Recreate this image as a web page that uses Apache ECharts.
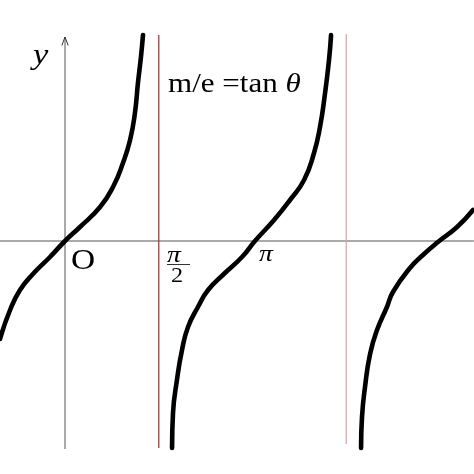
<!DOCTYPE html>
<html><head><meta charset="utf-8">
<script src="https://cdn.jsdelivr.net/npm/echarts@6/dist/echarts.min.js"></script>
<style>html,body{margin:0;padding:0;background:#fff}#c{width:474px;height:474px}</style>
</head><body><div id="c"></div>
<script>
// x in units of θ/π, y = m/e (tan θ)
const curve1X = [-0.347,-0.293,-0.240,-0.171,-0.080,0,0.080,0.187,0.256,0.309,0.347,0.373,0.389,0.405,0.416];
const curve1Y = [-1.96,-1.38,-0.98,-0.66,-0.32,0,0.28,0.68,1.08,1.56,2.02,2.56,3.16,3.68,4.12];
const curve2X = [0.571,0.576,0.597,0.624,0.656,0.709,0.763,0.853,0.944,1.013,1.115,1.200,1.275,1.328,1.360,1.387,1.408,1.419];
const curve2Y = [-4.14,-3.44,-2.78,-2.18,-1.72,-1.32,-0.98,-0.64,-0.32,0,0.42,0.82,1.22,1.76,2.28,2.96,3.62,4.12];
const curve3X = [1.579,1.584,1.600,1.627,1.664,1.717,1.749,1.840,1.909,1.989,2.091,2.176];
const curve3Y = [-4.14,-3.52,-2.92,-2.26,-1.78,-1.32,-1.02,-0.54,-0.28,-0.02,0.28,0.62];
const xAxisLineX = [-0.347,2.181];
const yAxisLineY = [-4.16,4.08];
const arrowX = [-0.017,0,0.017];
const arrowY = [3.91,4.08,3.91];
const asym1X = 0.5, asym1Y = [-4.14,4.12];
const asym2X = 1.5, asym2Y = [-4.06,4.14];
const xRange = [-0.3467,2.1813];
const yRange = [-4.66,4.82];

const zip = (xs, ys) => xs.map((x,i)=>[x, ys[i]]);
const chart = echarts.init(document.getElementById('c'), null, {renderer:'canvas'});
const thin = (data, color, w) => ({type:'line', data, showSymbol:false, symbol:'none', silent:true,
  lineStyle:{color, width:w}, z:1, animation:false});
const curve = (data) => ({type:'line', data, showSymbol:false, symbol:'none', smooth:0.5,
  lineStyle:{color:'#000', width:4.6, cap:'round', join:'round'}, z:5, animation:false});
const serif = '"Liberation Serif","DejaVu Serif",serif';
const txt = (x, y, text, size, italic) => ({type:'text', x, y, scaleX:1.15, z:10, style:{text, fontFamily:serif, fontStyle: italic ? 'italic' : 'normal', fontSize:size, fill:'#000', textAlign:'left', textVerticalAlign:'middle'}});

chart.setOption({
  animation:false,
  grid:{left:0,right:0,top:0,bottom:0,containLabel:false},
  xAxis:{type:'value', min:xRange[0], max:xRange[1], show:false},
  yAxis:{type:'value', min:yRange[0], max:yRange[1], show:false},
  series:[
    thin(zip(xAxisLineX,[0,0]), '#555', 1),
    thin(zip([0,0], yAxisLineY), '#555', 1),
    thin(zip(arrowX, arrowY), '#333', 1),
    thin(zip([asym1X,asym1X], asym1Y), '#a83c3c', 1.3),
    thin(zip([asym2X,asym2X], asym2Y), '#e2a4a4', 1.3),
    curve(zip(curve1X, curve1Y)),
    curve(zip(curve2X, curve2Y)),
    curve(zip(curve3X, curve3Y))
  ],
  graphic:[
    txt(33, 56, 'y', 30, true),
    {type:'text', x:168, y:85, scaleX:1.15, z:10, style:{
      text:'{a|m/e =tan }{b|θ}', fontFamily:serif, textVerticalAlign:'middle',
      rich:{a:{fontFamily:serif, fontSize:27, fill:'#000'}, b:{fontFamily:serif, fontSize:27, fontStyle:'italic', fill:'#000'}}}},
    txt(71, 261, 'O', 29),
    txt(167, 256, 'π', 24, true),
    {type:'line', shape:{x1:167,y1:264.5,x2:190,y2:264.5}, style:{stroke:'#333', lineWidth:1}, z:10},
    txt(171, 276, '2', 21),
    txt(259, 255, 'π', 24, true)
  ]
});
</script></body></html>
